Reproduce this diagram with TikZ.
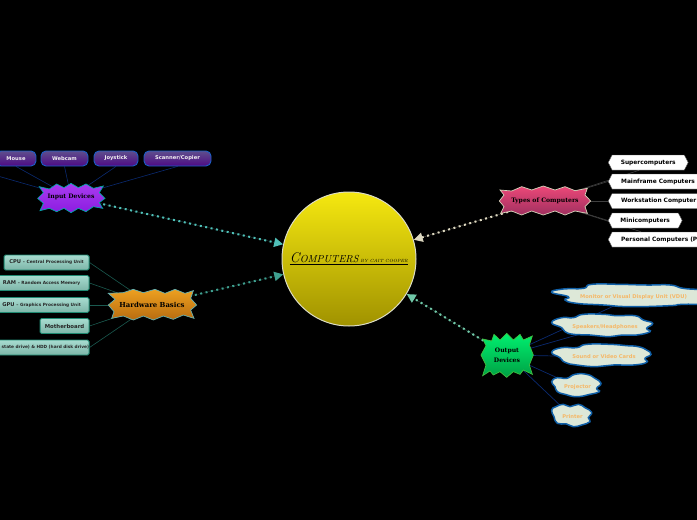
\documentclass[tikz,border=0pt]{standalone}
\usepackage{fontspec}
\setmainfont{DejaVu Sans}
\newfontfamily\headfont{DejaVu Serif}
\newfontfamily\titlefont{Latin Modern Roman}
\usetikzlibrary{shapes.symbols,shapes.geometric,arrows.meta,backgrounds}
\definecolor{inpA}{HTML}{A83CF0}\definecolor{inpB}{HTML}{8C1CE0}
\definecolor{hwA}{HTML}{EDA020}\definecolor{hwB}{HTML}{B86C10}
\definecolor{tyA}{HTML}{EC4878}\definecolor{tyB}{HTML}{A03060}
\definecolor{ouA}{HTML}{00F070}\definecolor{ouB}{HTML}{00A044}
\definecolor{pillA}{HTML}{5E4E8C}\definecolor{pillB}{HTML}{4E0A85}\definecolor{pillE}{HTML}{1A5FC8}
\definecolor{rectA}{HTML}{A8DCD0}\definecolor{rectB}{HTML}{7DB5A8}\definecolor{rectE}{HTML}{1F8A72}
\definecolor{cloudF}{HTML}{DDE8D8}\definecolor{cloudE}{HTML}{1060A8}\definecolor{cloudT}{HTML}{F5B868}
\definecolor{relA}{HTML}{50C0B8}\definecolor{relB}{HTML}{3FA090}\definecolor{relC}{HTML}{DDD8C0}\definecolor{relD}{HTML}{70C8A8}
\definecolor{circA}{HTML}{F5E810}\definecolor{circB}{HTML}{A09200}\definecolor{circE}{HTML}{DCDCC4}
\definecolor{blineC}{HTML}{0A2A70}\definecolor{tlineC}{HTML}{1A5A50}\definecolor{glineC}{HTML}{404040}
\tikzset{
 x=1pt,y=-1pt,
 pill/.style={rounded corners=5pt,draw=pillE,line width=0.9pt,top color=pillA,bottom color=pillB,text=white!90!gray,font=\bfseries\fontsize{5.2}{6}\selectfont,minimum height=15pt,inner sep=0pt,anchor=center},
 rectbox/.style={rounded corners=1.5pt,draw=rectE,line width=0.9pt,top color=rectA,bottom color=rectB,text=black!85,font=\bfseries\fontsize{5.2}{6}\selectfont,minimum height=15pt,inner sep=0pt,anchor=east},
 hexbox/.style={signal,signal to=west and east,signal pointer angle=125,fill=white,draw=black!70,text=black,font=\bfseries\fontsize{5.9}{7}\selectfont,minimum height=15pt,inner sep=0pt,inner xsep=2pt,anchor=west},
 cloudpath/.style={draw=cloudE,line width=1.5pt,fill=cloudF},
 cloudtext/.style={text=cloudT,font=\bfseries\fontsize{5.2}{6.5}\selectfont,inner sep=0pt},
 head/.style={font=\headfont\bfseries\fontsize{6.1}{8}\selectfont,text=black,align=center,inner sep=0pt},
 blink/.style={line width=0.6pt,draw=blineC},
 tlink/.style={line width=0.6pt,draw=tlineC},
 glink/.style={line width=0.6pt,draw=glineC},
 olink/.style={line width=0.7pt,draw=blineC},
 rel/.style={line width=2pt,dash pattern=on 2pt off 3.5pt,-{Triangle[length=9pt,width=9pt]}},
 burst/.style={line width=0.7pt}
}
\begin{document}
\begin{tikzpicture}
\useasboundingbox (0,0) rectangle (697,520);
\begin{scope}
\clip (0,0) rectangle (697,520);
% main
\node[circle,minimum size=134pt,draw=circE,line width=1pt,top color=circA,bottom color=circB,inner sep=0pt,text=black] (main) at (349,259)
 {\titlefont\itshape\underline{\fontsize{14}{14}\selectfont C\fontsize{10.2}{14}\selectfont OMPUTERS\,\fontsize{4.5}{6}\selectfont BY CAIT COOPER}};
% bursts
\begin{scope}[shift={(0,140)},scale=1/3]
\shade[burst,draw=teal!70!cyan,top color=inpA,bottom color=inpB] (118,140)--(148,147)--(170,132)--(192,143)--(213,130)--(235,143)--(258,132)--(280,145)--(310,138)--(298,158)--(315,175)--(298,188)--(308,205)--(280,200)--(258,215)--(235,205)--(213,218)--(192,205)--(170,215)--(148,205)--(120,212)--(130,190)--(113,175)--(130,158)--cycle;
\end{scope}
\begin{scope}[shift={(0,250)},scale=1/3]
\shade[burst,draw=teal!60!white,top color=hwA,bottom color=hwB] (325,130)--(370,128)--(400,118)--(430,128)--(465,118)--(495,130)--(525,118)--(555,130)--(580,122)--(572,145)--(590,165)--(572,180)--(582,205)--(550,195)--(520,208)--(490,198)--(460,210)--(430,198)--(400,210)--(370,198)--(335,205)--(342,185)--(325,165)--(345,148)--cycle;
\end{scope}
\begin{scope}[shift={(490,145)},scale=1/3]
\shade[burst,draw=yellow!25!gray!50!white,top color=tyA,bottom color=tyB] (30,135)--(65,138)--(95,125)--(125,135)--(160,123)--(195,135)--(225,125)--(255,137)--(292,130)--(285,150)--(302,168)--(285,185)--(292,205)--(255,198)--(225,210)--(195,198)--(160,210)--(125,198)--(95,210)--(65,198)--(32,205)--(42,185)--(28,168)--(42,150)--cycle;
\end{scope}
\begin{scope}[shift={(470,275)},scale=1/3]
\shade[burst,draw=green!50!gray,top color=ouA,bottom color=ouB] (38,192)--(65,198)--(72,178)--(90,195)--(110,175)--(130,195)--(150,178)--(160,195)--(187,183)--(178,210)--(190,240)--(178,270)--(187,298)--(160,285)--(150,298)--(130,290)--(110,307)--(90,290)--(70,300)--(60,288)--(38,302)--(48,270)--(33,240)--(48,212)--cycle;
\end{scope}
% clouds
\begin{scope}[shift={(470,275)},scale=1/3]
\draw[cloudpath] plot[smooth cycle,tension=.85] coordinates {(245,52)(280,42)(340,40)(365,28)(450,28)(530,30)(600,30)(640,40)(700,45)(760,55)(760,85)(640,88)(600,92)(480,95)(400,90)(320,85)(285,75)(295,65)};
\draw[cloudpath] plot[smooth cycle,tension=.85] coordinates {(245,143)(275,128)(310,128)(340,118)(400,118)(440,122)(495,122)(520,135)(548,145)(530,160)(540,170)(500,180)(460,180)(410,185)(360,180)(310,178)(285,170)(275,158)};
\draw[cloudpath] plot[smooth cycle,tension=.85] coordinates {(245,232)(275,218)(320,218)(350,208)(420,208)(470,212)(505,215)(530,225)(543,238)(525,250)(530,262)(490,270)(430,270)(380,275)(320,270)(285,262)(270,248)};
\draw[cloudpath] plot[smooth cycle,tension=.85] coordinates {(245,320)(262,308)(290,310)(315,298)(350,298)(375,310)(393,325)(380,340)(388,350)(360,358)(320,365)(285,358)(262,350)(255,335)};
\draw[cloudpath] plot[smooth cycle,tension=.85] coordinates {(245,405)(258,395)(280,388)(300,395)(325,388)(345,398)(365,412)(355,428)(360,440)(335,450)(310,455)(290,447)(262,445)(252,425)};
\end{scope}
\node[head] (input) at (71,197) {Input Devices};
\node[head,font=\headfont\bfseries\fontsize{6.9}{8}\selectfont] (hardware) at (152,305) {Hardware Basics};
\node[head] (types) at (545,201) {Types of Computers};
\node[head] (output) at (507,355) {Output\\[2pt]Devices};
% input children
\node[pill,minimum width=40pt] (mouse) at (16,158.5) {Mouse};
\node[pill,minimum width=47pt] (webcam) at (64.5,158.5) {Webcam};
\node[pill,minimum width=44pt] (joystick) at (116,158.5) {Joystick};
\node[pill,minimum width=67pt] (scanner) at (177.5,158.5) {Scanner/Copier};
% hardware children
\node[rectbox,minimum width=85pt] (cpu) at (89.5,262.5) {CPU {\fontsize{4.3}{5}\selectfont – Central Processing Unit}};
\node[rectbox,minimum width=95pt] (ram) at (89.5,283) {RAM {\fontsize{4.3}{5}\selectfont – Random Access Memory}};
\node[rectbox,minimum width=95pt] (gpu) at (89.5,305) {GPU {\fontsize{4.3}{5}\selectfont – Graphics Processing Unit}};
\node[rectbox,minimum width=49pt,font=\bfseries\fontsize{5.4}{6}\selectfont] (mobo) at (89.5,326) {Motherboard};
\node[rectbox,text width=130pt,align=right,font=\bfseries\fontsize{4.3}{5}\selectfont] (ssd) at (89.5,347.5) {state drive) \& HDD (hard disk drive)\hspace{3pt}};
% types children
\node[hexbox,minimum width=80pt] (super) at (608,162.5) {Supercomputers};
\node[hexbox,minimum width=100pt,text width=90pt,align=left] (mainframe) at (608,181.5) {\hspace{7pt}Mainframe Computers};
\node[hexbox,minimum width=110pt,text width=100pt,align=left] (work) at (608,201) {\hspace{7pt}Workstation Computer};
\node[hexbox,minimum width=74pt] (mini) at (608,220.5) {Minicomputers};
\node[hexbox,minimum width=120pt,text width=110pt,align=left] (personal) at (608,239.5) {\hspace{7pt}Personal Computers (P};
% output children
\node[cloudtext] (monitor) at (633.5,297) {Monitor or Visual Display Unit (VDU)};
\node[cloudtext] (speakers) at (605,327) {Speakers/Headphones};
\node[cloudtext] (sound) at (604,357) {Sound or Video Cards};
\node[cloudtext] (projector) at (577.5,387) {Projector};
\node[cloudtext] (printer) at (572.5,417) {Printer};
\end{scope}
\begin{pgfonlayer}{background}
\fill[black] (0,0) rectangle (697,520);
\coordinate (offleft) at (-4,175.5);
\draw[blink] (input.center) -- (offleft);
\draw[blink] (input.center) -- (mouse.south);
\draw[blink] (input.center) -- (webcam.south);
\draw[blink] (input.center) -- (joystick.south);
\draw[blink] (input.center) -- (scanner.south);
\foreach \n in {cpu,ram,gpu,mobo,ssd} \draw[tlink] (hardware.center) -- (\n.east);
\draw[glink] (types.center) -- ([xshift=-9pt]super.south);
\draw[glink] (types.center) -- (mainframe.west);
\draw[glink] (types.center) -- (work.west);
\draw[glink] (types.center) -- (mini.west);
\draw[glink] (types.center) -- ([xshift=-28pt]personal.north);
\draw[olink] (output.center) -- (monitor.center);
\draw[olink] (output.center) -- (speakers.center);
\draw[olink] (output.center) -- (sound.center);
\draw[olink] (output.center) -- (projector.center);
\draw[olink] (output.center) -- (printer.center);
\draw[rel,draw=relA,fill=relA] (input.center) -- (main);
\draw[rel,draw=relB,fill=relB] (hardware.center) -- (main);
\draw[rel,draw=relC,fill=relC] (types.center) -- (main);
\draw[rel,draw=relD,fill=relD] (output.center) -- (main);
\end{pgfonlayer}
\end{tikzpicture}
\end{document}
